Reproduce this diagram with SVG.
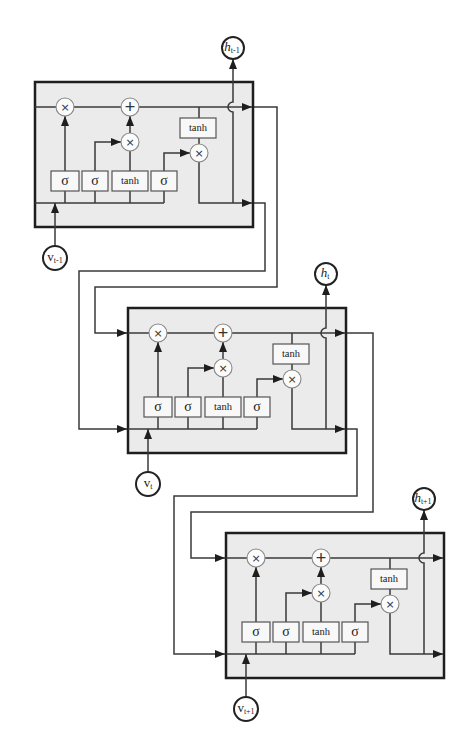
<svg xmlns="http://www.w3.org/2000/svg" width="474" height="739" viewBox="0 0 474 739">
<style>
.cell{fill:#ebebeb;stroke:#1e1e1e;stroke-width:2.5}
.ln{fill:none;stroke:#3a3a3a;stroke-width:1.5}
.gate{fill:#f8f8f8;stroke:#555;stroke-width:1.2}
.op{fill:#fbfbfb;stroke:#888;stroke-width:1.1}
.io{fill:#fff;stroke:#222;stroke-width:2}
.t{font-family:"Liberation Serif","DejaVu Serif",serif;fill:#222;text-anchor:middle}
.s{font-size:14px}
.th{font-size:10.5px}
.x{font-family:"DejaVu Sans",sans-serif;font-size:11px;fill:#333;text-anchor:middle}
.p{font-family:"Liberation Sans",sans-serif;font-size:18px;fill:#333;text-anchor:middle}
.lab{font-size:13px}
.sub{font-size:8px}
</style>
<defs>
<marker id="ah" markerWidth="10" markerHeight="8" refX="10" refY="4" orient="auto" markerUnits="userSpaceOnUse"><path d="M0,0 L10,4 L0,8 z" fill="#1e1e1e"/></marker>
</defs>
<rect width="474" height="739" fill="#fff"/>

<g id="connectors">
<path class="ln" d="M253,107 H277 V287 H95 V333 H127" marker-end="url(#ah)"/>
<path class="ln" d="M253,203 H265 V271 H79 V429 H127" marker-end="url(#ah)"/>
<path class="ln" d="M346,333 H373 V512 H191 V558 H225" marker-end="url(#ah)"/>
<path class="ln" d="M346,429 H357 V496 H174 V654 H225" marker-end="url(#ah)"/>
</g>

<g id="cell1" transform="translate(35,82)">
<rect class="cell" x="0" y="0" width="218" height="145"/>
<path class="ln" d="M0,25 H217" marker-end="url(#ah)"/>
<path class="ln" d="M0,121 H129"/>
<path class="ln" d="M30,121 V34" marker-end="url(#ah)"/>
<path class="ln" d="M60,121 V60 H86" marker-end="url(#ah)"/>
<path class="ln" d="M95,121 V69"/>
<path class="ln" d="M95,51 V34" marker-end="url(#ah)"/>
<path class="ln" d="M129,121 V71 H155" marker-end="url(#ah)"/>
<path class="ln" d="M164,25 V36 M164,56 V62"/>
<path class="ln" d="M164,80 V121 H217" marker-end="url(#ah)"/>
<path class="ln" d="M198,121 V30 A5,5 0 0 1 198,20 V-23" marker-end="url(#ah)"/>
<path class="ln" d="M20,164 V121" marker-end="url(#ah)"/>
<rect class="gate" x="16" y="89" width="28" height="20"/>
<rect class="gate" x="47" y="89" width="26" height="20"/>
<rect class="gate" x="77" y="89" width="36" height="20"/>
<rect class="gate" x="116" y="89" width="26" height="20"/>
<rect class="gate" x="145" y="36" width="36" height="20"/>
<text class="t s" x="30" y="103">σ</text>
<text class="t s" x="60" y="103">σ</text>
<text class="t th" x="95" y="102">tanh</text>
<text class="t s" x="129" y="103">σ</text>
<text class="t th" x="163" y="49">tanh</text>
<circle class="op" cx="30" cy="25" r="9"/>
<circle class="op" cx="95" cy="25" r="9"/>
<circle class="op" cx="95" cy="60" r="9"/>
<circle class="op" cx="164" cy="71" r="9"/>
<text class="x" x="30" y="29">×</text>
<text class="p" x="95" y="31">+</text>
<text class="x" x="95" y="64">×</text>
<text class="x" x="164" y="75">×</text>
<circle class="io" cx="198" cy="-34" r="11"/>
<text class="t lab" x="197" y="-31"><tspan font-style="italic">h</tspan><tspan class="sub" dy="2">t-1</tspan></text>
<circle class="io" cx="20" cy="176" r="12"/>
<text class="t lab" x="20" y="179">v<tspan class="sub" dy="2">t-1</tspan></text>
</g>

<g id="cell2" transform="translate(128,308)">
<rect class="cell" x="0" y="0" width="218" height="145"/>
<path class="ln" d="M0,25 H217" marker-end="url(#ah)"/>
<path class="ln" d="M0,121 H129"/>
<path class="ln" d="M30,121 V34" marker-end="url(#ah)"/>
<path class="ln" d="M60,121 V60 H86" marker-end="url(#ah)"/>
<path class="ln" d="M95,121 V69"/>
<path class="ln" d="M95,51 V34" marker-end="url(#ah)"/>
<path class="ln" d="M129,121 V71 H155" marker-end="url(#ah)"/>
<path class="ln" d="M164,25 V36 M164,56 V62"/>
<path class="ln" d="M164,80 V121 H217" marker-end="url(#ah)"/>
<path class="ln" d="M198,121 V30 A5,5 0 0 1 198,20 V-23" marker-end="url(#ah)"/>
<path class="ln" d="M20,164 V121" marker-end="url(#ah)"/>
<rect class="gate" x="16" y="89" width="28" height="20"/>
<rect class="gate" x="47" y="89" width="26" height="20"/>
<rect class="gate" x="77" y="89" width="36" height="20"/>
<rect class="gate" x="116" y="89" width="26" height="20"/>
<rect class="gate" x="145" y="36" width="36" height="20"/>
<text class="t s" x="30" y="103">σ</text>
<text class="t s" x="60" y="103">σ</text>
<text class="t th" x="95" y="102">tanh</text>
<text class="t s" x="129" y="103">σ</text>
<text class="t th" x="163" y="49">tanh</text>
<circle class="op" cx="30" cy="25" r="9"/>
<circle class="op" cx="95" cy="25" r="9"/>
<circle class="op" cx="95" cy="60" r="9"/>
<circle class="op" cx="164" cy="71" r="9"/>
<text class="x" x="30" y="29">×</text>
<text class="p" x="95" y="31">+</text>
<text class="x" x="95" y="64">×</text>
<text class="x" x="164" y="75">×</text>
<circle class="io" cx="198" cy="-34" r="11"/>
<text class="t lab" x="197" y="-31"><tspan font-style="italic">h</tspan><tspan class="sub" dy="2">t</tspan></text>
<circle class="io" cx="20" cy="176" r="12"/>
<text class="t lab" x="20" y="179">v<tspan class="sub" dy="2">t</tspan></text>
</g>

<g id="cell3" transform="translate(226,533)">
<rect class="cell" x="0" y="0" width="218" height="145"/>
<path class="ln" d="M0,25 H217" marker-end="url(#ah)"/>
<path class="ln" d="M0,121 H129"/>
<path class="ln" d="M30,121 V34" marker-end="url(#ah)"/>
<path class="ln" d="M60,121 V60 H86" marker-end="url(#ah)"/>
<path class="ln" d="M95,121 V69"/>
<path class="ln" d="M95,51 V34" marker-end="url(#ah)"/>
<path class="ln" d="M129,121 V71 H155" marker-end="url(#ah)"/>
<path class="ln" d="M164,25 V36 M164,56 V62"/>
<path class="ln" d="M164,80 V121 H217" marker-end="url(#ah)"/>
<path class="ln" d="M198,121 V30 A5,5 0 0 1 198,20 V-23" marker-end="url(#ah)"/>
<path class="ln" d="M20,164 V121" marker-end="url(#ah)"/>
<rect class="gate" x="16" y="89" width="28" height="20"/>
<rect class="gate" x="47" y="89" width="26" height="20"/>
<rect class="gate" x="77" y="89" width="36" height="20"/>
<rect class="gate" x="116" y="89" width="26" height="20"/>
<rect class="gate" x="145" y="36" width="36" height="20"/>
<text class="t s" x="30" y="103">σ</text>
<text class="t s" x="60" y="103">σ</text>
<text class="t th" x="95" y="102">tanh</text>
<text class="t s" x="129" y="103">σ</text>
<text class="t th" x="163" y="49">tanh</text>
<circle class="op" cx="30" cy="25" r="9"/>
<circle class="op" cx="95" cy="25" r="9"/>
<circle class="op" cx="95" cy="60" r="9"/>
<circle class="op" cx="164" cy="71" r="9"/>
<text class="x" x="30" y="29">×</text>
<text class="p" x="95" y="31">+</text>
<text class="x" x="95" y="64">×</text>
<text class="x" x="164" y="75">×</text>
<circle class="io" cx="198" cy="-34" r="11"/>
<text class="t lab" x="197" y="-31"><tspan font-style="italic">h</tspan><tspan class="sub" dy="2">t+1</tspan></text>
<circle class="io" cx="20" cy="176" r="12"/>
<text class="t lab" x="20" y="179">v<tspan class="sub" dy="2">t+1</tspan></text>
</g>
</svg>
